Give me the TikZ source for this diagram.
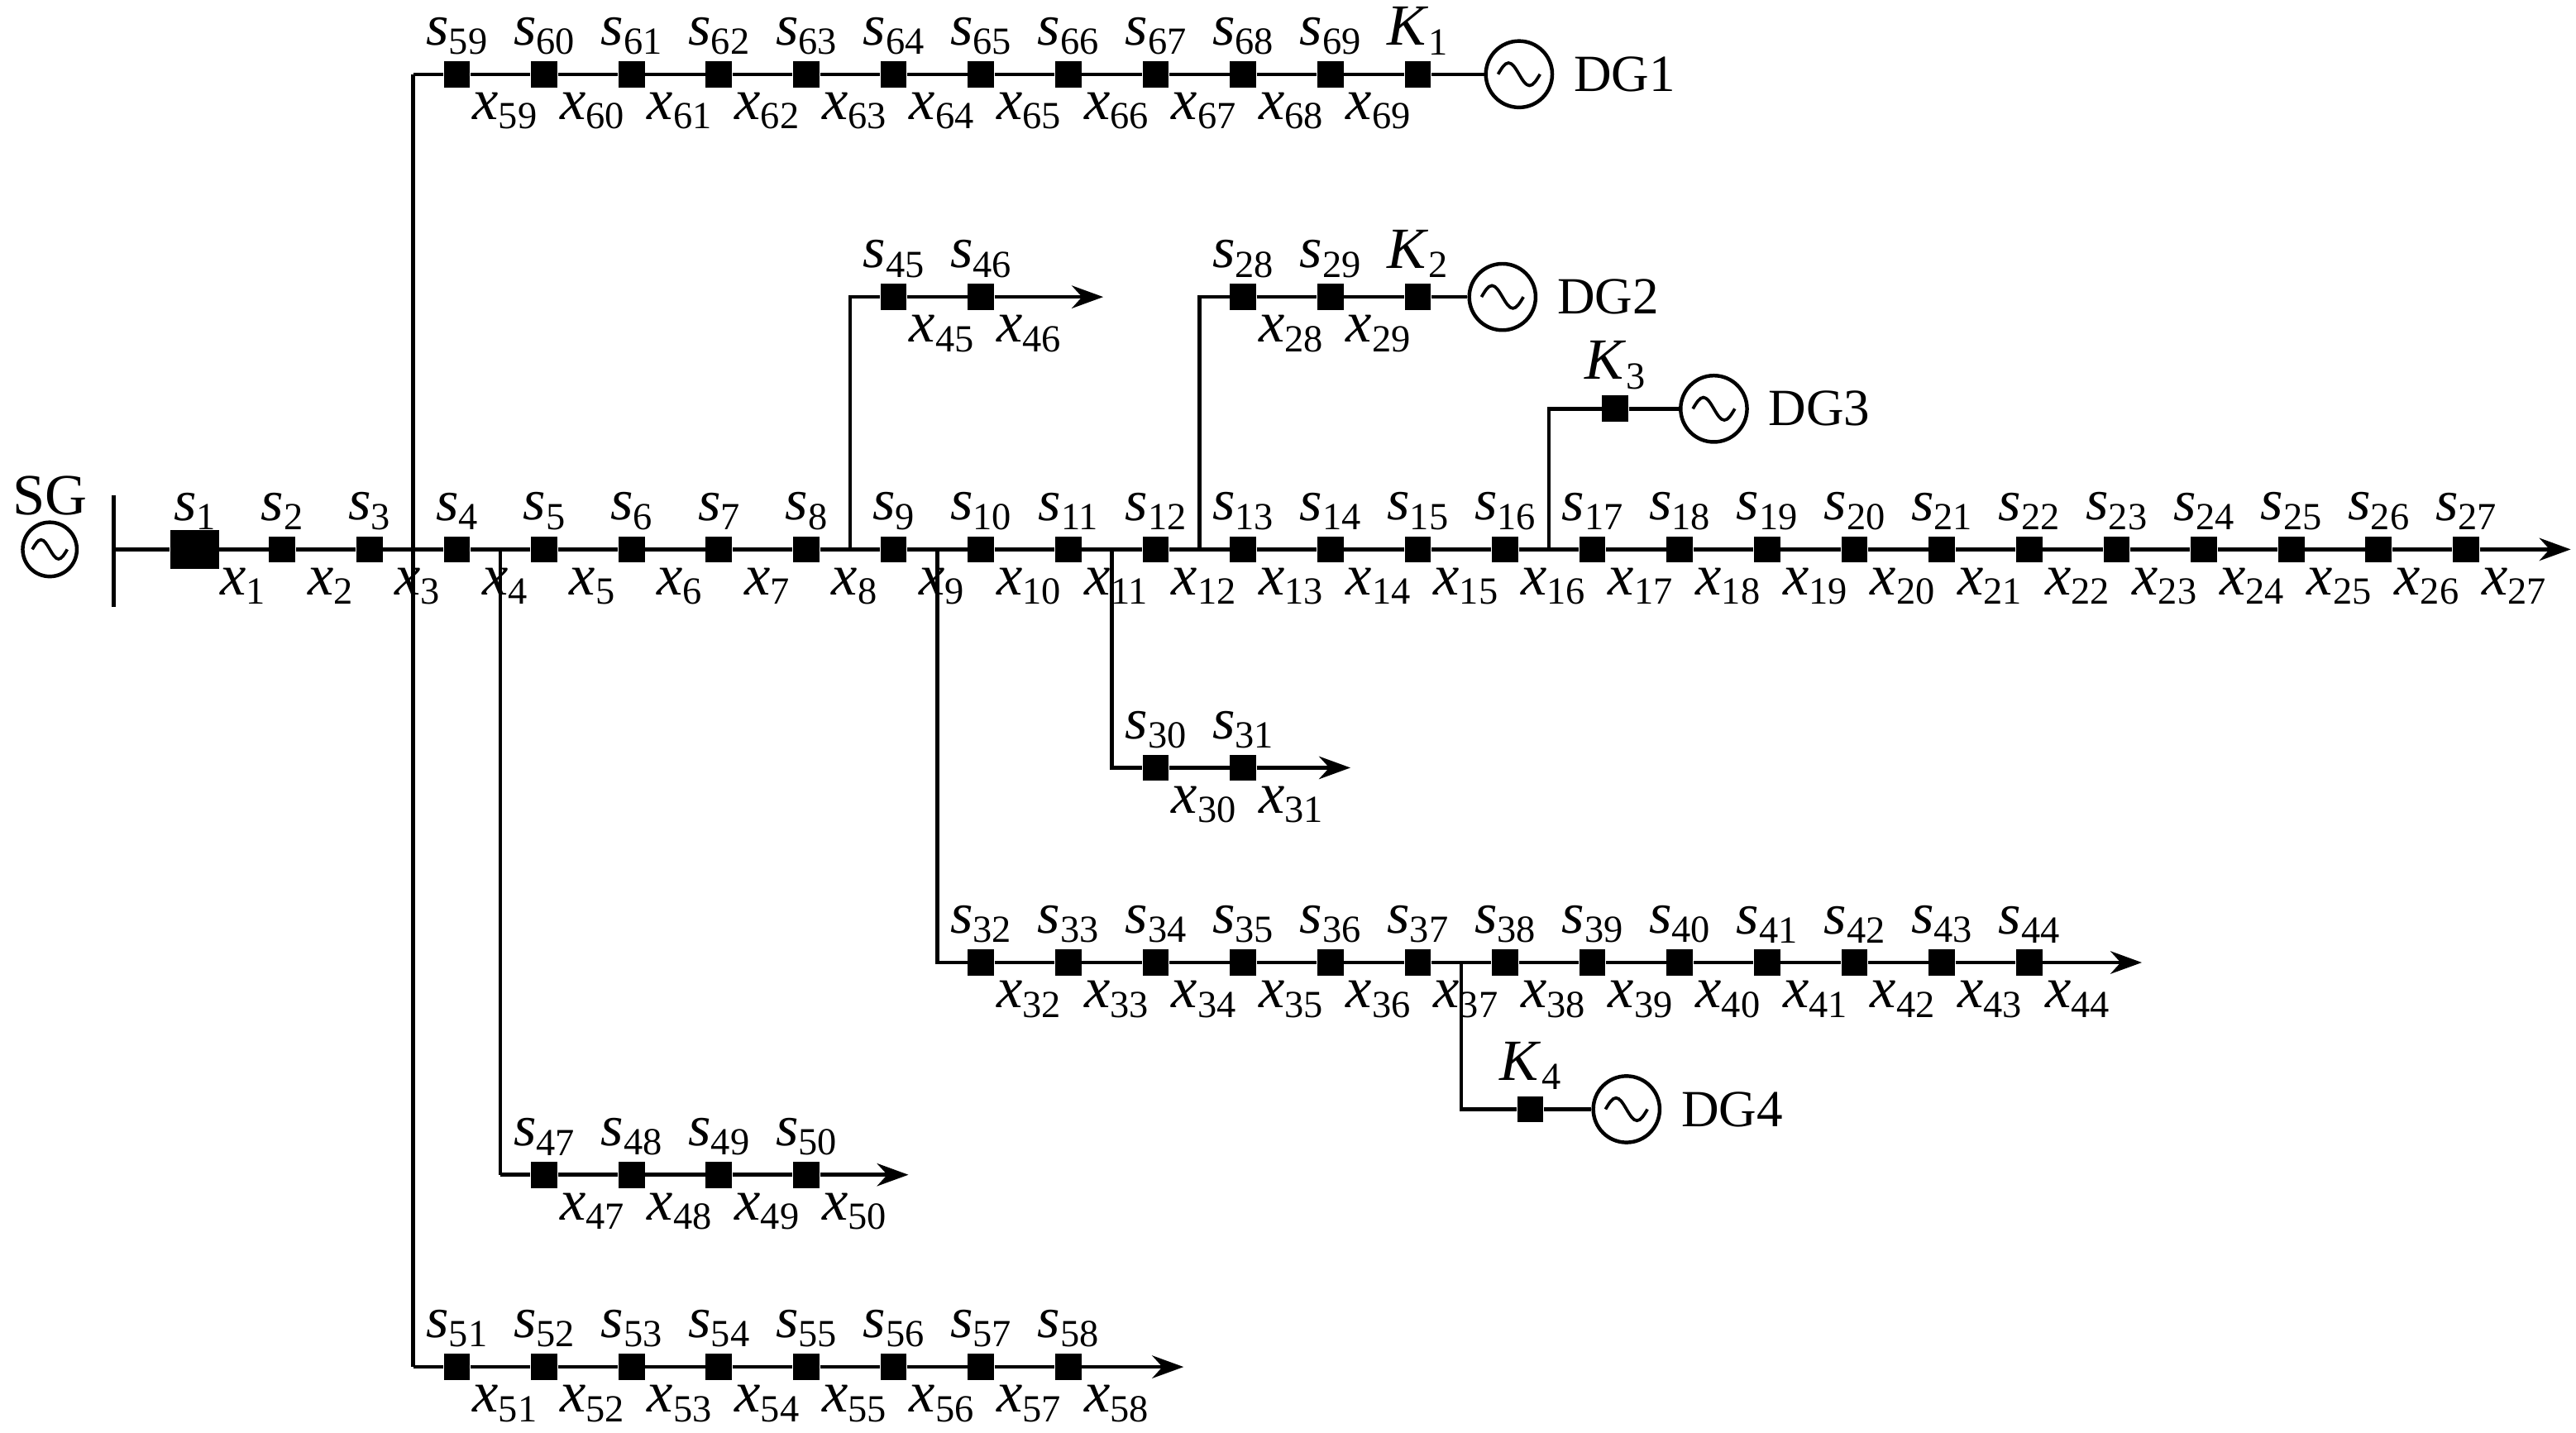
\documentclass[tikz,border=0pt]{standalone}
\usepackage{fontspec}
\setmainfont{Liberation Serif}
\usetikzlibrary{arrows.meta,calc,positioning}

% italic letter with upright subscript, all in the text font
\newcommand{\sub}[2]{\textit{#1}\raisebox{-0.35ex}{\fontsize{12.5}{13}\selectfont #2}}

% one row of switches s_first .. s_last, first one at (x0,y0)
\newcommand{\swrow}[4]{%
  \foreach \i in {#1,...,#2}{%
    \pgfmathsetmacro{\px}{#3+\i-#1}
    \node[sw] (s\i) at (\px,#4) {};
    \node[slab,above=0.06cm of s\i] {\sub{s}{\i}};
    \node[xlab] at ($(s\i)+(0.55,0.42)$) {\sub{x}{\i}};
  }%
  \pgfmathtruncatemacro{\lastm}{#2-1}
  \foreach \i in {#1,...,\lastm}{%
    \pgfmathtruncatemacro{\j}{\i+1}
    \draw[ln] (s\i) -- (s\j);
  }%
}
% generator symbol
\newcommand{\gen}[3]{%
  \node[gen] (#1) at #2 {};
  \draw[line width=1pt] ($(#1.center)+(-0.24,0)$) sin ++(0.12,-0.13) cos ++(0.12,0.13) sin ++(0.12,0.13) cos ++(0.12,-0.13);
  \node[dglab,right=0.22cm of #1] {#3};
}

\begin{document}
\begin{tikzpicture}[
    x=1cm, y=-1cm,
    ln/.style={line width=1.2pt},
    arr/.style={line width=1.2pt,-{Stealth[length=0.36cm,width=0.26cm]}},
    sw/.style={rectangle,fill=black,minimum size=0.3cm,inner sep=0pt},
    big/.style={rectangle,fill=black,minimum width=0.56cm,minimum height=0.44cm,inner sep=0pt},
    slab/.style={font=\fontsize{19}{22}\selectfont,inner sep=0pt},
    xlab/.style={font=\fontsize{19}{22}\selectfont,inner sep=0pt},
    gen/.style={circle,draw,line width=1.2pt,minimum size=0.76cm,inner sep=0pt},
    dglab/.style={font=\fontsize{17}{20}\selectfont,inner sep=0pt}
]
    \useasboundingbox (-2.23,-6.29) rectangle (27.26,10.11);

    % source
    \node[circle,draw,line width=1.2pt,minimum size=0.62cm,inner sep=0pt] (SG) at (-1.66,0) {};
    \draw[line width=1pt] ($(SG.center)+(-0.2,0)$) sin ++(0.1,-0.11) cos ++(0.1,0.11) sin ++(0.1,0.11) cos ++(0.1,-0.11);
    \node[dglab,font=\fontsize{19}{22}\selectfont,above=0.05cm of SG] {SG};
    \coordinate (bt) at (-0.93,-0.62);
    \coordinate (bb) at (-0.93,0.66);
    \coordinate (bar) at (-0.93,0);
    \draw[ln] (bt) -- (bb);

    % main feeder
    \swrow{1}{27}{0}{0}
    \node[big] (s1) at (0,0) {};
    \coordinate (e1) at (27.2,0);
    \draw[ln] (bar) -- (s1);
    \draw[arr] (s27) -- (e1);

    % branch at x3
    \coordinate (j3) at (2.5,0);
    \coordinate (j3t) at (2.5,-5.44);
    \coordinate (j3b) at (2.5,9.36);
    \draw[ln] (j3t) -- (j3b);
    \swrow{59}{69}{3}{-5.44}
    \node[sw] (K1) at (14,-5.44) {};
    \node[slab,above=0.06cm of K1] {\sub{K}{1}};
    \gen{DG1}{(15.16,-5.44)}{DG1}
    \draw[ln] (j3t) -- (s59);
    \draw[ln] (s69) -- (K1) -- (DG1);
    \swrow{51}{58}{3}{9.36}
    \coordinate (e51) at (11.32,9.36);
    \draw[ln] (j3b) -- (s51);
    \draw[arr] (s58) -- (e51);

    % branch at x4
    \coordinate (j4) at (3.5,0);
    \coordinate (j4b) at (3.5,7.16);
    \draw[ln] (j4) -- (j4b);
    \swrow{47}{50}{4}{7.16}
    \coordinate (e47) at (8.17,7.16);
    \draw[ln] (j4b) -- (s47);
    \draw[arr] (s50) -- (e47);

    % branch at x8
    \coordinate (j8) at (7.5,0);
    \coordinate (j8t) at (7.5,-2.89);
    \swrow{45}{46}{8}{-2.89}
    \coordinate (e45) at (10.4,-2.89);
    \draw[ln] (j8) -- (j8t) -- (s45);
    \draw[arr] (s46) -- (e45);

    % branch at x12
    \coordinate (j12) at (11.5,0);
    \coordinate (j12t) at (11.5,-2.89);
    \swrow{28}{29}{12}{-2.89}
    \node[sw] (K2) at (14,-2.89) {};
    \node[slab,above=0.06cm of K2] {\sub{K}{2}};
    \gen{DG2}{(14.97,-2.89)}{DG2}
    \draw[ln] (j12) -- (j12t) -- (s28);
    \draw[ln] (s29) -- (K2) -- (DG2);

    % branch at x16
    \coordinate (j16) at (15.5,0);
    \coordinate (j16t) at (15.5,-1.61);
    \node[sw] (K3) at (16.26,-1.61) {};
    \node[slab,above=0.06cm of K3] {\sub{K}{3}};
    \gen{DG3}{(17.39,-1.61)}{DG3}
    \draw[ln] (j16) -- (j16t) -- (K3) -- (DG3);

    % branch at x11
    \coordinate (j11) at (10.5,0);
    \coordinate (j11b) at (10.5,2.5);
    \swrow{30}{31}{11}{2.5}
    \coordinate (e30) at (13.23,2.5);
    \draw[ln] (j11) -- (j11b) -- (s30);
    \draw[arr] (s31) -- (e30);

    % branch at x9
    \coordinate (j9) at (8.5,0);
    \coordinate (j9b) at (8.5,4.73);
    \swrow{32}{44}{9}{4.73}
    \coordinate (e32) at (22.29,4.73);
    \draw[ln] (j9) -- (j9b) -- (s32);
    \draw[arr] (s44) -- (e32);

    % branch at x37
    \coordinate (j37) at (14.5,4.73);
    \coordinate (j37b) at (14.5,6.41);
    \node[sw] (K4) at (15.29,6.41) {};
    \node[slab,above=0.06cm of K4] {\sub{K}{4}};
    \gen{DG4}{(16.39,6.41)}{DG4}
    \draw[ln] (j37) -- (j37b) -- (K4) -- (DG4);
\end{tikzpicture}
\end{document}
